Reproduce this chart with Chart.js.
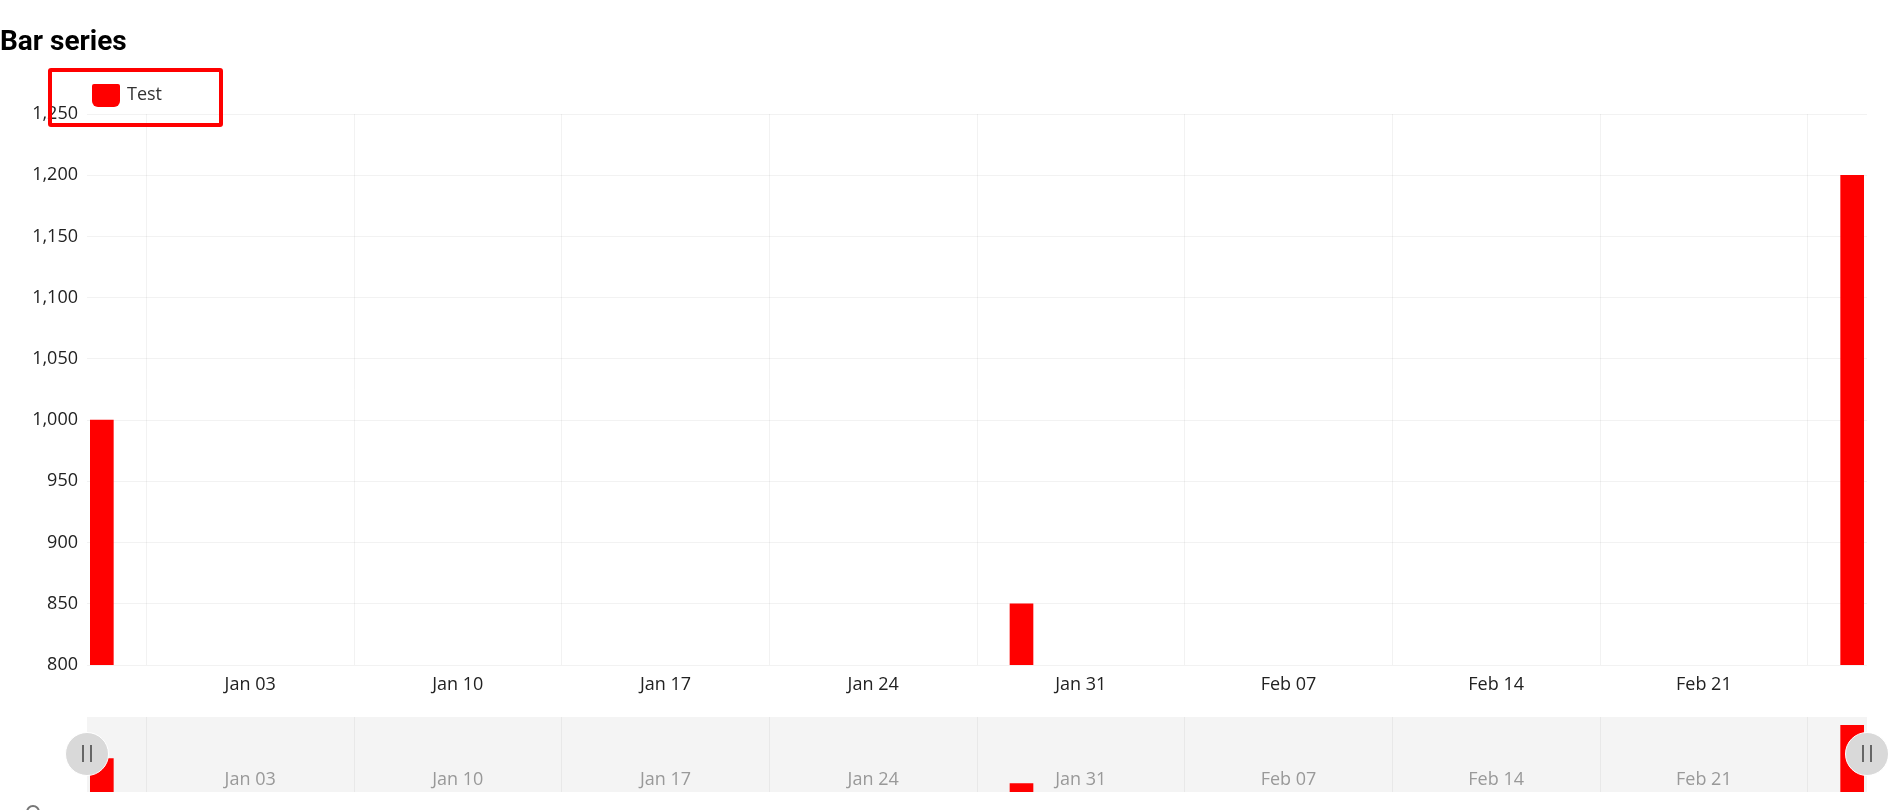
<!DOCTYPE html>
<html>
<head>
<meta charset="utf-8">
<title>Bar series</title>
<script src="https://cdn.jsdelivr.net/npm/chart.js@4.4.1/dist/chart.umd.min.js"></script>
<style>
  html, body { margin: 0; padding: 0; background: #fff; }
  body { width: 1888px; height: 810px; position: relative; overflow: hidden; font-family: "Open Sans", sans-serif; }
  #title { position: absolute; left: 0; top: 27px; margin: 0; font: bold 28px/28px Roboto, sans-serif; color: #000; z-index: 2; }
  #mainChart { position: absolute; left: 0; top: 0; }
  #navChart { position: absolute; left: 87px; top: 717px; background: #f4f4f4; }
  #legend { position: absolute; left: 48px; top: 68px; width: 167px; height: 51px; border: 4px solid #ff0000; border-radius: 3px; z-index: 2; }
  #legend .swatch { position: absolute; left: 40px; top: 12px; width: 28px; height: 23px; border-radius: 2px 2px 6px 6px; }
  #legend .text { position: absolute; left: 75px; top: 12px; font: 18px/18px "Open Sans", sans-serif; color: #333; white-space: nowrap; }
  .handle { position: absolute; width: 42px; height: 42px; border-radius: 50%; background: #d9d9d9; border: 1.5px solid #fff; z-index: 2; }
  .handle span { position: absolute; left: 16px; top: 12px; width: 6px; height: 17px; border-left: 2px solid #666; border-right: 2px solid #666; }
  #logo { position: absolute; left: 26px; top: 805px; width: 10px; height: 10px; border: 2.5px solid #777; border-radius: 50%; }
</style>
</head>
<body>
<h1 id="title">Bar series</h1>
<canvas id="mainChart" width="1888" height="810"></canvas>
<canvas id="navChart" width="1780" height="75"></canvas>
<div id="legend"><div class="swatch"></div><div class="text"></div></div>
<div class="handle" style="left:64.5px; top:731.5px;"><span></span></div>
<div class="handle" style="left:1844.5px; top:731.5px;"><span></span></div>
<div id="logo"></div>
<script>
// series
var seriesName = 'Test';
var barDates = ['2021-01-01', '2021-02-01', '2021-03-01'];
var barValues = [1000, 850, 1200];
var barColor = '#ff0000';

// axes
var axisStart = '2021-01-01';
var axisEnd = '2021-03-01';
var weekStarts = ['2021-01-03', '2021-01-10', '2021-01-17', '2021-01-24', '2021-01-31',
                  '2021-02-07', '2021-02-14', '2021-02-21', '2021-02-28'];
var weekLabels = ['Jan 03', 'Jan 10', 'Jan 17', 'Jan 24', 'Jan 31', 'Feb 07', 'Feb 14', 'Feb 21'];
var yMin = 800;
var yMax = 1250;
var yStep = 50;

var gridColor = 'rgba(0,0,0,0.05)';

function dayIndex(d) {
    return (Date.parse(d) - Date.parse(axisStart)) / 86400000;
}

// gridlines at the start of each week, label in the middle of the week
function buildWeekTicks(scale) {
    var ticks = [];
    weekStarts.forEach(function(d, i) {
        var s = dayIndex(d);
        ticks.push({ value: s - 0.5, grid: true, text: '' });
        if (weekLabels[i]) ticks.push({ value: s + 3, grid: false, text: weekLabels[i] });
    });
    scale.ticks = ticks;
}

function weekGridColor(ctx) {
    return ctx.tick && ctx.tick.grid ? gridColor : 'rgba(0,0,0,0)';
}

var points = barDates.map(function(d, i) {
    return { x: dayIndex(d), y: barValues[i] };
});

var xMin = -0.5;
var xMax = dayIndex(axisEnd) + 0.5;

Chart.defaults.font.family = '"Open Sans", sans-serif';
Chart.defaults.font.size = 18;

document.querySelector('#legend .swatch').style.background = barColor;
document.querySelector('#legend .text').textContent = seriesName;

var mainChart = new Chart(document.getElementById('mainChart'), {
    type: 'bar',
    data: {
        datasets: [{
            label: seriesName,
            data: points,
            backgroundColor: barColor,
            borderWidth: 0,
            barThickness: 23
        }]
    },
    options: {
        responsive: false,
        animation: false,
        layout: { padding: { top: 114, left: 0, right: 21, bottom: 105 } },
        plugins: { legend: { display: false }, tooltip: { enabled: false } },
        scales: {
            x: {
                type: 'linear',
                min: xMin,
                max: xMax,
                offset: false,
                bounds: 'data',
                afterBuildTicks: buildWeekTicks,
                afterFit: function(scale) { scale.height = 40; },
                grid: { color: weekGridColor, drawTicks: false, offset: false },
                border: { display: false },
                ticks: {
                    autoSkip: false,
                    maxRotation: 0,
                    padding: 9,
                    color: '#222',
                    callback: function(value, index, ticks) { return ticks[index].text; }
                }
            },
            y: {
                min: yMin,
                max: yMax,
                afterFit: function(scale) { scale.width = 87; },
                grid: { color: gridColor, drawTicks: false },
                border: { display: false },
                ticks: { stepSize: yStep, padding: 9, color: '#222' }
            }
        }
    }
});

// scrollbar preview below the main plot
var navChart = new Chart(document.getElementById('navChart'), {
    type: 'bar',
    data: {
        datasets: [{
            label: seriesName,
            data: points,
            backgroundColor: barColor,
            borderWidth: 0,
            barThickness: 23
        }]
    },
    options: {
        responsive: false,
        animation: false,
        layout: { padding: 0 },
        plugins: { legend: { display: false }, tooltip: { enabled: false } },
        scales: {
            x: {
                type: 'linear',
                min: xMin,
                max: xMax,
                offset: false,
                bounds: 'data',
                afterBuildTicks: buildWeekTicks,
                afterFit: function(scale) { scale.height = 0; },
                grid: { color: weekGridColor, drawTicks: false, offset: false },
                border: { display: false },
                ticks: {
                    autoSkip: false,
                    maxRotation: 0,
                    mirror: true,
                    padding: 1.5,
                    color: '#999',
                    callback: function(value, index, ticks) { return ticks[index].text; }
                }
            },
            y: {
                display: false,
                min: yMin,
                max: yMax
            }
        }
    }
});
</script>
</body>
</html>
